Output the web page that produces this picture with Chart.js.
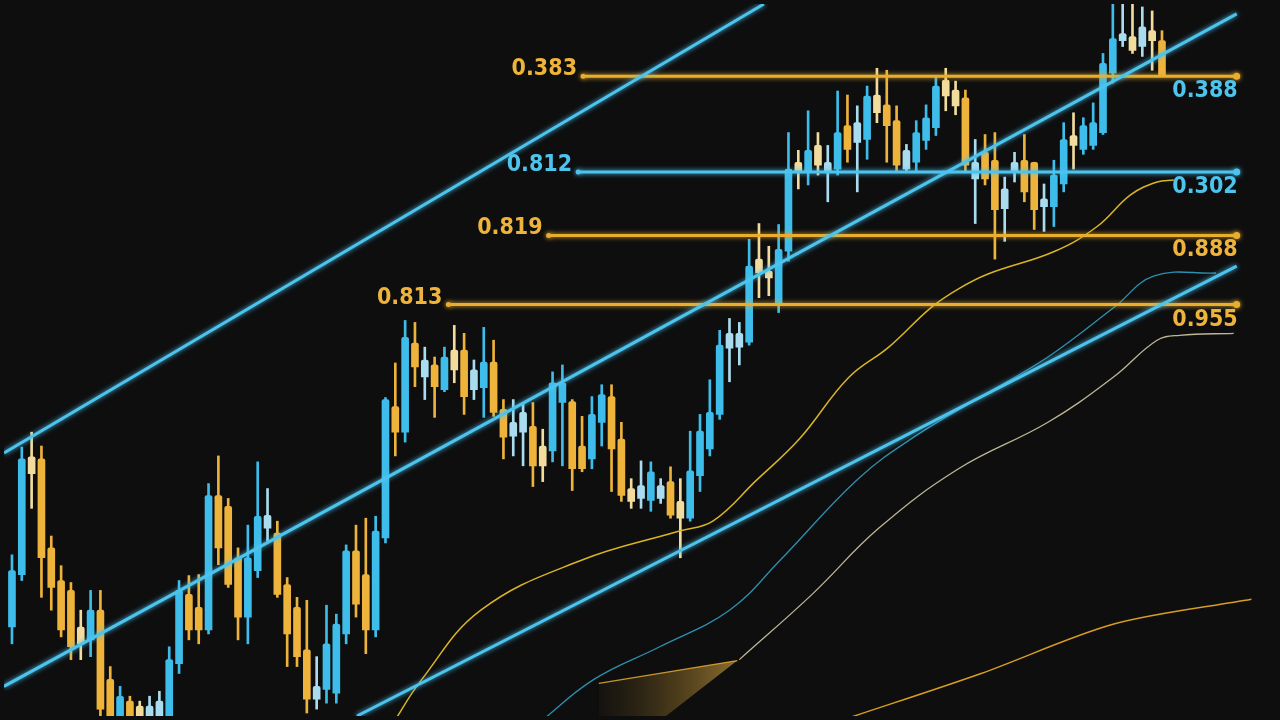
<!DOCTYPE html>
<html>
<head>
<meta charset="utf-8">
<script src="https://cdn.jsdelivr.net/npm/chart.js@4.4.1/dist/chart.umd.min.js"></script>
<style>
  html, body { margin: 0; padding: 0; background: #0e0e0f; }
  #wrap { width: 1280px; height: 720px; }
</style>
</head>
<body>
<div id="wrap"><canvas id="c" width="1280" height="720"></canvas></div>
<script>
// ---------- DATA ----------
const opens  = [9.0,14.3,26.2,26.0,17.0,13.7,12.7,9.0,7.7,10.7,3.7,-1.0,1.5,1.0,-0.2,-0.5,-1.0,5.3,12.3,11.0,
  8.7,22.3,21.2,16.0,10.0,14.7,19.0,18.5,13.3,11.0,6.7,1.7,2.7,2.3,8.3,16.7,14.3,8.7,18.0,31.3,
  28.7,37.7,34.3,35.5,33.0,37.0,37.0,33.0,33.2,35.8,31.0,28.3,28.7,29.3,27.3,26.8,31.7,31.8,27.3,26.0,
  29.7,32.3,28.0,23.0,22.0,21.8,22.0,23.7,21.7,20.0,24.3,27.0,30.5,37.2,37.3,37.8,46.2,45.0,41.8,47.0,
  56.0,55.0,57.7,55.0,55.3,59.7,58.0,58.3,62.8,61.8,60.2,55.3,56.0,58.2,59.5,64.3,63.3,62.5,54.3,57.0,
  56.2,51.3,55.0,56.2,56.0,51.5,51.5,53.8,58.7,57.3,57.7,59.0,65.0,68.3,68.7,67.7,69.3,68.3];
const highs  = [16.3,27.2,28.7,27.3,18.2,15.2,13.5,10.7,12.7,12.7,5.0,3.0,2.0,1.5,2.0,2.5,7.0,13.7,14.2,14.3,
  23.5,26.3,22.0,17.0,19.3,25.7,23.0,19.7,14.0,12.0,11.7,6.0,11.2,10.3,17.3,19.3,20.0,20.2,32.2,35.7,
  40.0,39.8,37.3,36.3,37.3,39.5,38.7,36.0,39.3,38.0,32.0,32.0,31.7,31.7,29.0,34.8,35.5,32.0,30.3,32.3,
  33.5,33.5,29.7,24.0,25.8,25.7,24.0,25.2,24.0,28.8,30.5,34.0,39.0,40.2,39.8,48.2,49.8,47.5,49.7,59.0,
  57.2,61.2,59.0,57.7,63.2,62.8,61.7,63.7,65.5,65.3,61.7,57.8,60.2,61.8,64.7,65.5,64.2,63.3,58.3,58.8,
  59.0,54.5,57.0,58.8,56.0,53.8,56.2,60.0,61.0,60.5,62.0,67.0,72.5,73.0,73.0,71.7,71.3,69.3];
const lows   = [7.3,13.7,21.0,12.0,10.7,8.0,5.7,5.7,6.0,-0.5,-1.5,-2.0,-2.0,-2.0,-1.5,-2.0,-2.0,4.3,7.7,7.3,
  8.3,15.3,13.0,7.7,7.3,14.0,17.7,12.0,5.0,5.0,0.3,0.7,1.3,1.3,7.3,10.0,6.3,8.0,17.5,26.3,
  27.7,33.3,32.0,30.2,32.8,33.7,30.5,32.0,30.2,30.3,26.0,26.3,25.3,23.2,23.7,25.7,25.3,22.8,24.7,25.0,
  27.3,22.7,21.7,21.0,21.0,20.7,21.5,20.0,16.0,19.7,22.7,26.3,30.0,33.8,35.5,37.5,42.3,42.5,40.8,46.0,
  53.3,53.7,54.7,52.0,54.7,56.0,53.0,56.3,60.0,56.0,55.0,55.0,55.0,57.3,58.7,61.2,60.8,55.0,49.8,53.7,
  46.2,48.0,54.0,52.0,49.2,49.0,49.5,53.0,55.3,56.8,57.3,58.8,64.0,67.7,67.0,66.7,65.3,64.8];
const closes = [14.7,26.0,24.5,16.0,13.0,8.7,7.0,7.3,10.7,0.7,-0.5,2.0,-1.0,-1.0,1.0,1.5,5.7,12.7,8.7,8.7,
  22.3,17.0,13.3,10.0,16.0,20.2,20.3,12.3,8.3,6.0,1.7,3.0,7.3,9.3,16.7,11.3,8.7,18.7,32.0,28.7,
  38.3,35.3,36.0,33.3,36.3,35.0,32.3,35.0,35.8,30.7,28.2,29.7,30.7,25.3,25.3,33.7,33.7,25.0,25.0,30.5,
  32.5,27.0,22.3,21.7,23.3,24.7,23.3,20.3,20.0,24.8,28.8,30.7,37.5,38.7,38.7,45.5,44.8,44.3,47.2,55.3,
  55.0,57.2,55.7,56.0,59.0,57.3,60.0,62.7,61.0,59.7,55.7,57.2,59.0,60.5,63.7,62.7,61.7,55.7,56.0,54.3,
  51.2,53.3,56.0,53.0,51.2,52.3,54.7,58.3,57.7,59.7,60.0,66.0,68.5,69.0,67.3,69.7,68.3,64.8];

// horizontal levels
const levelValues = [64.7, 55.0, 48.6, 41.6];
const levelStarts = [58.1, 57.6, 54.6, 44.4];
const levelEnd = 124.6;
const leftLabels  = ["0.383", "0.812", "0.819", "0.813"];
const rightLabels = ["0.388", "0.302", "0.888", "0.955"];

// trend channel lines [x, y]
const channelUpper  = [[-0.81, 26.6], [76.5, 72.0]];
const channelMiddle = [[-0.81, 3.0], [124.6, 71.0]];
const channelLower  = [[35.1, 0.0], [124.6, 45.5]];

// moving-average style curves
const curveGold = [[38.6,-1.0],[41.7,3.7],[47.7,10.7],[57.8,15.7],[67.9,18.7],[71.3,19.7],[75.7,23.8],[80.1,28.0],
  [85.1,34.2],[89.2,37.3],[93.5,41.3],[96.3,43.2],[99.3,44.7],[106.1,47.0],[110.4,49.5],[113.8,52.7],[116.5,54.0],[118.2,54.2]];
const curveTeal = [[53.5,-0.8],[59.2,3.7],[65.9,7.0],[73.0,10.7],[78.1,15.7],[86.1,24.0],[91.9,28.3],[98.6,32.3],
  [105.4,36.3],[112.1,41.3],[116.2,44.5],[122.5,44.8]];
const curvePale = [[74.0,5.7],[81.4,12.3],[88.2,19.0],[96.3,25.0],[105.4,29.7],[112.1,34.3],[116.5,38.0],[118.8,38.5],[124.3,38.7]];
const wedgeTop  = [[59.7,3.3],[73.8,5.6]];
const wedgeBase = [[59.7,-0.5],[65.9,-0.5],[73.8,5.6]];
const curveLow = [[85.1,-0.2],[98.6,4.3],[112.1,9.3],[126.1,11.8]];

// ---------- STYLE ----------
const BLUE = '#3fbdea', GOLD = '#eeb33b', PBLUE = '#a9dcee', PGOLD = '#f1dc9e';
const LGOLD = '#e9ae2e', LBLUE = '#4cc4ee';

const idx = opens.map((_, i) => i);
const candleColor = i => {
  const up = closes[i] >= opens[i];
  const small = Math.abs(closes[i] - opens[i]) <= 2.0;
  return up ? (small ? PBLUE : BLUE) : (small ? PGOLD : GOLD);
};
const pts = arr => arr.map(p => ({x: p[0], y: p[1]}));

const datasets = [];
// horizontal level lines
levelValues.forEach((v, k) => {
  const c = (k === 1) ? LBLUE : LGOLD;
  datasets.push({
    type: 'line', order: 1, glow: c,
    data: [{x: levelStarts[k], y: v}, {x: levelEnd, y: v}],
    borderColor: c, borderWidth: 3, pointRadius: [2.5, 3.5],
    pointBackgroundColor: c, pointBorderWidth: 0
  });
});
// channel
[channelUpper, channelMiddle, channelLower].forEach(l => datasets.push({
  type: 'line', order: 0, glow: LBLUE, data: pts(l), borderColor: LBLUE, borderWidth: 3, pointRadius: 0
}));
// curves
datasets.push({type:'line', order:2, data: pts(curveGold), borderColor:'#d9b526', borderWidth:1.5, pointRadius:0, tension:0.4});
datasets.push({type:'line', order:2, data: pts(curveTeal), borderColor:'#2f8fae', borderWidth:1.3, pointRadius:0, tension:0.4});
datasets.push({type:'line', order:2, data: pts(curvePale), borderColor:'#bdb796', borderWidth:1.3, pointRadius:0, tension:0.4});
datasets.push({type:'line', order:2, data: pts(curveLow), borderColor:'#d89d22', borderWidth:1.5, pointRadius:0, tension:0.3});
const wedgeIndex = datasets.length;
datasets.push({
  type:'line', order:3, data: pts(wedgeTop), borderColor:'rgba(230,170,50,0.85)', borderWidth:1.5, pointRadius:0, tension:0,
  fill: wedgeIndex + 1,
  backgroundColor: (context) => {
    const chart = context.chart;
    const {ctx, chartArea, scales} = chart;
    if (!chartArea) return 'rgba(200,150,40,0.3)';
    const x0 = scales.x.getPixelForValue(wedgeTop[0][0]);
    const x1 = scales.x.getPixelForValue(wedgeTop[1][0]);
    const g = ctx.createLinearGradient(x0, 0, x1, 0);
    g.addColorStop(0, 'rgba(110,85,30,0.08)');
    g.addColorStop(0.5, 'rgba(170,130,45,0.35)');
    g.addColorStop(1, 'rgba(225,175,70,0.6)');
    return g;
  }
});
datasets.push({
  type:'line', order:3, data: pts(wedgeBase), borderColor:'rgba(0,0,0,0)', borderWidth:0, pointRadius:0, tension:0, fill:false
});
// candles: wicks then bodies
datasets.push({
  type:'bar', order: 10, grouped: false,
  data: idx.map(i => ({x: i, y: [lows[i], highs[i]]})),
  backgroundColor: idx.map(candleColor), barThickness: 2
});
datasets.push({
  type:'bar', order: 9, grouped: false,
  data: idx.map(i => ({x: i, y: [opens[i], closes[i]]})),
  backgroundColor: idx.map(candleColor), barThickness: 7, borderRadius: 2, minBarLength: 3
});

const glowPlugin = {
  id: 'glow',
  beforeDatasetDraw(chart, args) {
    const ds = chart.data.datasets[args.index];
    if (ds.glow) {
      chart.ctx.save();
      chart.ctx.shadowColor = ds.glow;
      chart.ctx.shadowBlur = 5;
    }
  },
  afterDatasetDraw(chart, args) {
    const ds = chart.data.datasets[args.index];
    if (ds.glow) chart.ctx.restore();
  }
};

const labelPlugin = {
  id: 'levelLabels',
  afterDatasetsDraw(chart) {
    const {ctx, scales: {x, y}} = chart;
    const leftCol = [GOLD, LBLUE, GOLD, GOLD];
    const rightCol = [LBLUE, LBLUE, GOLD, GOLD];
    ctx.save();
    ctx.font = "bold 23px 'DejaVu Sans Condensed', 'DejaVu Sans', sans-serif";
    ctx.textBaseline = 'middle';
    ctx.textAlign = 'right';
    levelValues.forEach((v, k) => {
      const py = y.getPixelForValue(v);
      const sx = x.getPixelForValue(levelStarts[k]);
      const ex = x.getPixelForValue(levelEnd);
      ctx.fillStyle = leftCol[k];
      ctx.fillText(leftLabels[k], sx - 6, py - 7);
      ctx.fillStyle = rightCol[k];
      ctx.fillText(rightLabels[k], ex + 1, py + 15);
    });
    ctx.restore();
  }
};

new Chart(document.getElementById('c'), {
  type: 'bar',
  data: { datasets },
  options: {
    responsive: false, animation: false,
    layout: { padding: 0 },
    plugins: { legend: { display: false }, tooltip: { enabled: false } },
    scales: {
      x: { type: 'linear', min: -0.81, max: 128.6, offset: false, display: false },
      y: { type: 'linear', min: 0, max: 72, display: false }
    }
  },
  plugins: [glowPlugin, labelPlugin]
});
</script>
</body>
</html>
